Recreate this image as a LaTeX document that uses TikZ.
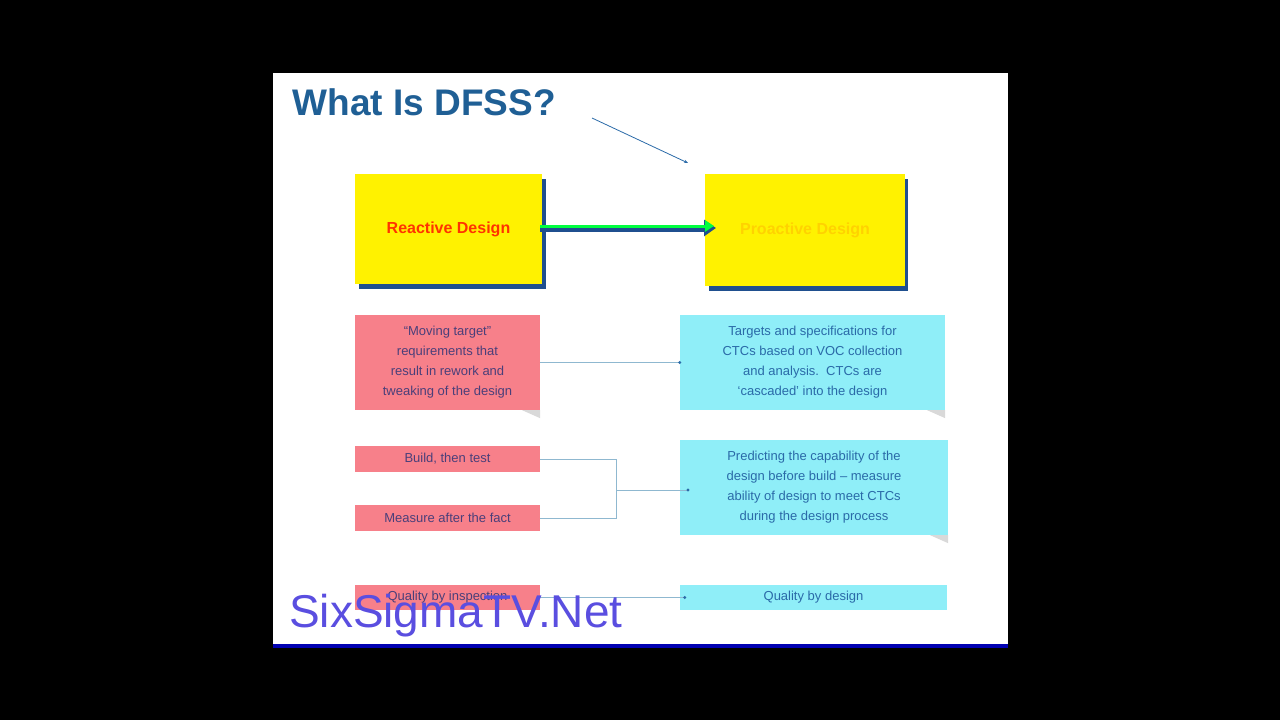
\documentclass[tikz,border=0pt]{standalone}
\usepackage{fontspec}
\setmainfont{Liberation Sans}
\usetikzlibrary{arrows.meta}
\definecolor{ttl}{HTML}{1F5F95}
\definecolor{yel}{HTML}{FFF200}
\definecolor{shd}{HTML}{1F4F8F}
\definecolor{pnk}{HTML}{F7808A}
\definecolor{cyn}{HTML}{8FEEF8}
\definecolor{ptx}{HTML}{4A3F7A}
\definecolor{ctx}{HTML}{2A6AA8}
\definecolor{lnc}{HTML}{8FB8D0}
\definecolor{wm}{HTML}{5A4EE0}
\begin{document}
\begin{tikzpicture}[x=1pt,y=-1pt,
  ybox/.style={fill=yel,draw=none,minimum width=#1,minimum height=110,inner sep=0,font=\bfseries\fontsize{16}{18}\selectfont},
  pbox/.style={fill=pnk,minimum width=185,inner sep=0,align=center,text=ptx,font=\fontsize{13}{20}\selectfont},
  cbox/.style={fill=cyn,inner sep=0,align=center,text=ctx,font=\fontsize{13}{20}\selectfont},
  conn/.style={draw=lnc,line width=0.8pt}]
\useasboundingbox (0,0) rectangle (1280,720);
\fill[black] (0,0) rectangle (1280,720);
\fill[white] (273,73) rectangle (1008,648);
\fill[blue!70!black] (273,644) rectangle (1008,648);
\node[anchor=west,text=ttl,font=\bfseries\fontsize{37}{42}\selectfont] (title) at (289,102) {What Is DFSS?};
\coordinate (t1) at (592,118);
\coordinate (t2) at (688,163);
\draw[ctx,line width=0.8pt,-{Stealth[length=4pt]}] (t1) -- (t2);
% yellow boxes
\fill[shd] (359,179) rectangle (546,289);
\node[ybox=187,text={red!60!orange}] (rd) at (448.5,229) {Reactive Design};
\fill[shd] (709,179) rectangle (908,291);
\node[ybox=200,minimum height=112,text={orange!35!yellow}] (pd) at (805,230) {Proactive Design};
\coordinate (a1) at (540,228);
\coordinate (a2) at (716,228);
\draw[shd,line width=7pt,-{Triangle[length=12pt,width=16pt]}] (a1) -- (a2);
\draw[green!75!cyan,line width=3pt,-{Triangle[length=9pt,width=11pt]}] ([yshift=2]a1) -- ([xshift=-2,yshift=2]a2);
% pink/cyan rows
\node[pbox,minimum height=95] (p1) at (447.5,362.5) {“Moving target”\\requirements that\\result in rework and\\tweaking of the design};
\node[cbox,minimum width=265,minimum height=95] (c1) at (812.5,362.5) {Targets and specifications for\\CTCs based on VOC collection\\and analysis.\ \ CTCs are\\‘cascaded’ into the design};
\node[pbox,minimum height=26] (p2) at (447.5,459) {Build, then test};
\node[pbox,minimum height=26] (p3) at (447.5,518) {Measure after the fact};
\node[cbox,minimum width=268,minimum height=95] (c2) at (814,487.5) {Predicting the capability of the\\design before build – measure\\ability of design to meet CTCs\\during the design process};
\node[pbox,minimum height=25] (p4) at (447.5,597.5) {Quality by inspection};
\node[cbox,minimum width=267,minimum height=25] (c4) at (813.5,597.5) {Quality by design};
% folded corners
\foreach \n in {p1,c1,c2}{\fill[white!70!gray] ([xshift=-18]\n.south east) -- (\n.south east) -- ([yshift=-8]\n.south east) -- cycle;}
\coordinate (b1) at (616,459);
\coordinate (b2) at (616,518);
\coordinate (bm) at (616,490);
\coordinate (bt) at (688,490);
\draw[conn] (p1.east) -- (c1.west);
\fill[ctx] (c1.west) circle (1.6);
\draw[conn] (p2.east) -- (b1) -- (b2) -- (p3.east);
\draw[conn] (bm) -- (bt);
\fill[ctx] (bt) circle (1.6);
\draw[conn] (p4.east) -- ([xshift=5]c4.west);
\fill[ctx] ([xshift=5]c4.west) circle (1.6);
\node[anchor=west,text=wm,font=\fontsize{46}{52}\selectfont,inner sep=0] (wmk) at (289,616) {SixSigmaTV.Net};
\end{tikzpicture}
\end{document}
